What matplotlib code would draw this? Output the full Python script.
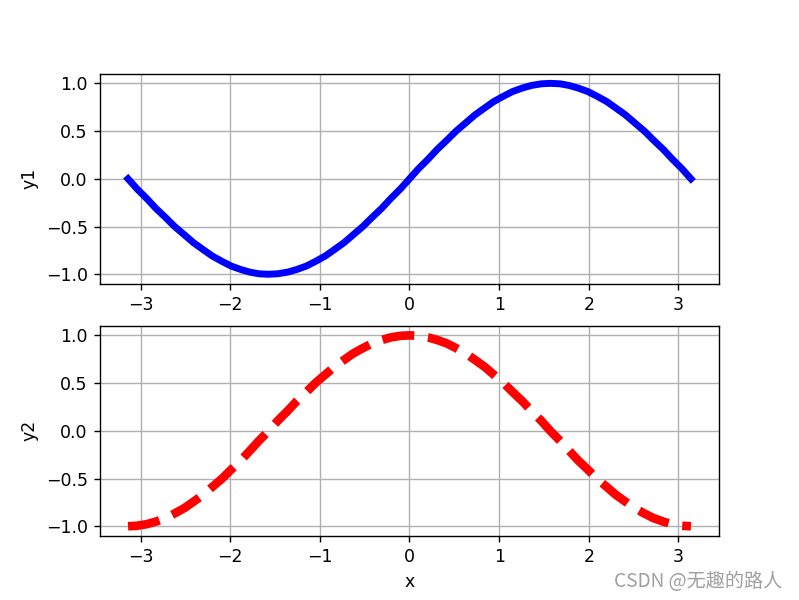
import matplotlib
matplotlib.use('Agg')
import matplotlib.pyplot as plt

# values
x = [-3.14, -3.04, -2.93, -2.83, -2.72, -2.62, -2.51, -2.41, -2.30, -2.20,
     -2.09, -1.99, -1.88, -1.78, -1.68, -1.57, -1.47, -1.36, -1.26, -1.15,
     -1.05, -0.94, -0.84, -0.73, -0.63, -0.52, -0.42, -0.31, -0.21, -0.10,
     0.00, 0.10, 0.21, 0.31, 0.42, 0.52, 0.63, 0.73, 0.84, 0.94,
     1.05, 1.15, 1.26, 1.36, 1.47, 1.57, 1.68, 1.78, 1.88, 1.99,
     2.09, 2.20, 2.30, 2.41, 2.51, 2.62, 2.72, 2.83, 2.93, 3.04, 3.14]
y1 = [0.0, -0.105, -0.208, -0.309, -0.407, -0.5, -0.588, -0.669, -0.743, -0.809,
      -0.866, -0.914, -0.951, -0.978, -0.995, -1.0, -0.995, -0.978, -0.951, -0.914,
      -0.866, -0.809, -0.743, -0.669, -0.588, -0.5, -0.407, -0.309, -0.208, -0.105,
      0.0, 0.105, 0.208, 0.309, 0.407, 0.5, 0.588, 0.669, 0.743, 0.809,
      0.866, 0.914, 0.951, 0.978, 0.995, 1.0, 0.995, 0.978, 0.951, 0.914,
      0.866, 0.809, 0.743, 0.669, 0.588, 0.5, 0.407, 0.309, 0.208, 0.105, 0.0]
y2 = [-1.0, -0.995, -0.978, -0.951, -0.914, -0.866, -0.809, -0.743, -0.669, -0.588,
      -0.5, -0.407, -0.309, -0.208, -0.105, 0.0, 0.105, 0.208, 0.309, 0.407,
      0.5, 0.588, 0.669, 0.743, 0.809, 0.866, 0.914, 0.951, 0.978, 0.995,
      1.0, 0.995, 0.978, 0.951, 0.914, 0.866, 0.809, 0.743, 0.669, 0.588,
      0.5, 0.407, 0.309, 0.208, 0.105, 0.0, -0.105, -0.208, -0.309, -0.407,
      -0.5, -0.588, -0.669, -0.743, -0.809, -0.866, -0.914, -0.951, -0.978, -0.995, -1.0]

# screenshot looks like a default 6.4x4.8 figure shown at 125% scaling
fig, (ax1, ax2) = plt.subplots(2, figsize=(6.392, 4.8), dpi=125)
plt.subplots_adjust(top=0.877, bottom=0.107)

ax1.plot(x, y1, color='blue', linewidth=4)
ax1.set_ylabel('y1')
ax1.grid(True)

ax2.plot(x, y2, color='red', linewidth=5, linestyle='--')
ax2.set_ylabel('y2')
ax2.set_xlabel('x')
ax2.grid(True)

fig.text(0.979, 0.022, 'CSDN @无趣的路人', ha='right', va='baseline',
         fontsize=11, color='#a0a0a0',
         family=['Noto Sans CJK SC', 'DejaVu Sans'])

fig.savefig('out.png')
